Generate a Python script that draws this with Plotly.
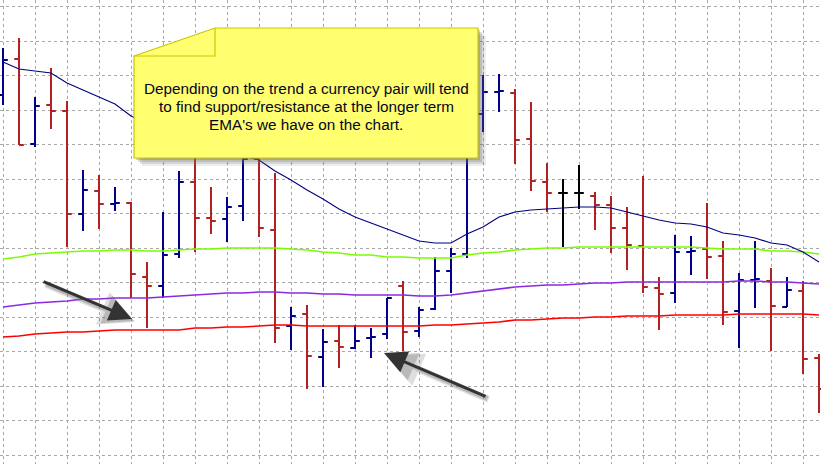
import plotly.graph_objects as go

# ---- data (bar index, OHLC prices) ----
bar_index = list(range(52))
open_ = [1.2905, 1.2941, 1.2856, 1.2895, 1.2889, 1.2786, 1.2809, 1.2796, 1.2797, 1.2723,
         1.2714, 1.2746, 1.2818, 1.2782, 1.2781, 1.2794, 1.2841, 1.2770, 1.2674, 1.2686,
         1.2643, 1.2659, 1.2652, 1.2662, 1.2666, 1.2714, 1.2669, 1.2691, 1.2729, 1.2746,
         1.2886, 1.2908, 1.2907, 1.2861, 1.2818, 1.2807, 1.2807, 1.2804, 1.2795, 1.2772,
         1.2754, 1.2712, 1.2707, 1.2748, 1.2751, 1.2744, 1.2689, 1.2720, 1.2719, 1.2693,
         1.2709, 1.2642]
high = [1.2952, 1.2962, 1.2903, 1.2932, 1.2899, 1.2830, 1.2825, 1.2813, 1.2798, 1.2738,
        1.2788, 1.2829, 1.2850, 1.2813, 1.2803, 1.2850, 1.2850, 1.2827, 1.2693, 1.2695,
        1.2671, 1.2675, 1.2675, 1.2672, 1.2702, 1.2719, 1.2693, 1.2743, 1.2752, 1.2890,
        1.2925, 1.2926, 1.2911, 1.2898, 1.2837, 1.2821, 1.2835, 1.2808, 1.2804, 1.2793,
        1.2824, 1.2723, 1.2765, 1.2764, 1.2797, 1.2759, 1.2727, 1.2759, 1.2732, 1.2723,
        1.2719, 1.2646]
low = [1.2895, 1.2855, 1.2853, 1.2871, 1.2753, 1.2769, 1.2771, 1.2789, 1.2702, 1.2672,
       1.2702, 1.2742, 1.2748, 1.2766, 1.2758, 1.2779, 1.2763, 1.2657, 1.2650, 1.2611,
       1.2613, 1.2632, 1.2651, 1.2642, 1.2661, 1.2649, 1.2663, 1.2690, 1.2707, 1.2742,
       1.2868, 1.2888, 1.2836, 1.2809, 1.2788, 1.2753, 1.2791, 1.2770, 1.2747, 1.2730,
       1.2707, 1.2670, 1.2697, 1.2725, 1.2721, 1.2675, 1.2652, 1.2692, 1.2649, 1.2693,
       1.2626, 1.2587]
close = [1.2940, 1.2855, 1.2894, 1.2889, 1.2786, 1.2810, 1.2796, 1.2797, 1.2726, 1.2714,
         1.2745, 1.2818, 1.2782, 1.2779, 1.2793, 1.2841, 1.2772, 1.2672, 1.2684, 1.2644,
         1.2658, 1.2653, 1.2659, 1.2663, 1.2702, 1.2668, 1.2690, 1.2729, 1.2746, 1.2886,
         1.2908, 1.2909, 1.2860, 1.2819, 1.2807, 1.2807, 1.2807, 1.2795, 1.2772, 1.2755,
         1.2713, 1.2706, 1.2748, 1.2749, 1.2743, 1.2688, 1.2720, 1.2721, 1.2694, 1.2710,
         1.2641, 1.2611]

# ---- moving averages ----
ema_short = [1.2938, 1.2931, 1.2929, 1.2927, 1.2917, 1.2910, 1.2903, 1.2896, 1.2884, 1.2876,
             1.2869, 1.2863, 1.2857, 1.2852, 1.2848, 1.2844, 1.2840, 1.2829, 1.2820, 1.2810,
             1.2801, 1.2791, 1.2783, 1.2777, 1.2771, 1.2765, 1.2759, 1.2757, 1.2757, 1.2766,
             1.2773, 1.2783, 1.2788, 1.2790, 1.2791, 1.2792, 1.2793, 1.2793, 1.2792, 1.2788,
             1.2784, 1.2780, 1.2777, 1.2776, 1.2773, 1.2767, 1.2765, 1.2762, 1.2757, 1.2755,
             1.2748, 1.2738]
ema_green = [1.2741, 1.2743, 1.2746, 1.2747, 1.2748, 1.2749, 1.2749, 1.2750, 1.2750, 1.2749,
             1.2749, 1.2750, 1.2751, 1.2751, 1.2752, 1.2752, 1.2752, 1.2752, 1.2751, 1.2750,
             1.2748, 1.2747, 1.2745, 1.2745, 1.2743, 1.2743, 1.2742, 1.2742, 1.2742, 1.2745,
             1.2747, 1.2748, 1.2750, 1.2751, 1.2752, 1.2752, 1.2753, 1.2753, 1.2753, 1.2753,
             1.2753, 1.2753, 1.2753, 1.2753, 1.2752, 1.2751, 1.2751, 1.2751, 1.2749, 1.2749,
             1.2748, 1.2746]
ema_purple = [1.2693, 1.2695, 1.2697, 1.2698, 1.2699, 1.2701, 1.2701, 1.2702, 1.2702, 1.2702,
              1.2703, 1.2704, 1.2705, 1.2706, 1.2707, 1.2707, 1.2708, 1.2708, 1.2707, 1.2707,
              1.2706, 1.2706, 1.2705, 1.2705, 1.2705, 1.2705, 1.2704, 1.2704, 1.2705, 1.2707,
              1.2709, 1.2711, 1.2713, 1.2714, 1.2715, 1.2715, 1.2716, 1.2717, 1.2717, 1.2718,
              1.2718, 1.2718, 1.2718, 1.2718, 1.2718, 1.2718, 1.2719, 1.2719, 1.2718, 1.2718,
              1.2717, 1.2716]
ema_red = [1.2663, 1.2664, 1.2666, 1.2667, 1.2668, 1.2668, 1.2669, 1.2670, 1.2670, 1.2670,
           1.2670, 1.2670, 1.2672, 1.2672, 1.2673, 1.2673, 1.2674, 1.2675, 1.2675, 1.2674,
           1.2674, 1.2674, 1.2674, 1.2674, 1.2674, 1.2674, 1.2674, 1.2675, 1.2675, 1.2676,
           1.2677, 1.2678, 1.2680, 1.2680, 1.2681, 1.2682, 1.2682, 1.2683, 1.2683, 1.2684,
           1.2684, 1.2684, 1.2685, 1.2685, 1.2685, 1.2685, 1.2686, 1.2686, 1.2686, 1.2686,
           1.2686, 1.2685]

note_lines = ["Depending on the trend a currency pair will tend",
              "to find support/resistance at the longer term",
              "EMA's we have on the chart."]

# ---- styles ----
W, H = 821, 464
UP = "#00008C"
DOWN = "#B22222"
DOJI = "#000000"
GRID = "#A8A8A8"


def px(x):
    return x / W


def py(y):
    return 1 - y / H


fig = go.Figure()

# split regular bars and doji (open == close)
reg = [i for i in bar_index if open_[i] != close[i]]
dj = [i for i in bar_index if open_[i] == close[i]]


def sub(arr, idx):
    return [arr[i] for i in idx]


fig.add_trace(go.Ohlc(
    x=sub(bar_index, reg), open=sub(open_, reg), high=sub(high, reg),
    low=sub(low, reg), close=sub(close, reg),
    increasing=dict(line=dict(color=UP, width=2)),
    decreasing=dict(line=dict(color=DOWN, width=2)),
    tickwidth=0.3, hoverinfo="skip", showlegend=False))
fig.add_trace(go.Ohlc(
    x=sub(bar_index, dj), open=sub(open_, dj), high=sub(high, dj),
    low=sub(low, dj), close=sub(close, dj),
    increasing=dict(line=dict(color=DOJI, width=2)),
    decreasing=dict(line=dict(color=DOJI, width=2)),
    tickwidth=0.3, hoverinfo="skip", showlegend=False))

for vals, col, w in [(ema_red, "#FF0000", 1.5), (ema_purple, "#8A2BE2", 1.5),
                     (ema_green, "#7CFC00", 1.5), (ema_short, "#000080", 1.1)]:
    fig.add_trace(go.Scatter(x=bar_index, y=vals, mode="lines",
                             line=dict(color=col, width=w), hoverinfo="skip",
                             showlegend=False))


def note_path(dx, dy):
    return (f"M {px(134 + dx)},{py(56 + dy)} L {px(215 + dx)},{py(28 + dy)} "
            f"L {px(478 + dx)},{py(28 + dy)} L {px(478 + dx)},{py(158 + dy)} "
            f"L {px(134 + dx)},{py(158 + dy)} Z")


shapes = []
# callout shadow (soft)
for off, op in [(8, 0.12), (6, 0.18), (4, 0.24), (2, 0.3)]:
    shapes.append(dict(type="path", xref="paper", yref="paper", path=note_path(off, off),
                       fillcolor="#6E6E6E", opacity=op, line=dict(width=0), layer="above"))
# callout body with folded corner
shapes.append(dict(type="path", xref="paper", yref="paper", path=note_path(0, 0),
                   fillcolor="#FFFF70", line=dict(color="#C8C800", width=1.2), layer="above"))
fold = f"M {px(215)},{py(28)} L {px(215)},{py(56)} L {px(134)},{py(56)}"
shapes.append(dict(type="path", xref="paper", yref="paper", path=fold,
                   line=dict(color="#C8C800", width=1.2), layer="above"))

annotations = []
for line_text, ly in zip(note_lines, [88, 106.5, 125]):
    annotations.append(dict(xref="paper", yref="paper", x=px(306), y=py(ly), text=line_text,
                            showarrow=False, align="center", xanchor="center",
                            yanchor="middle",
                            font=dict(family="Liberation Sans, Arial, sans-serif", size=15.3,
                                      color="#05051E")))


def arrow(hx, hy, tx, ty, color, width, size):
    return dict(xref="paper", yref="paper", x=px(hx), y=py(hy), ax=tx - hx, ay=ty - hy,
                text="", showarrow=True, arrowhead=2, arrowsize=size, arrowwidth=width,
                arrowcolor=color, standoff=0, startstandoff=0)


for (hx, hy, tx, ty) in [(132, 319, 42, 281), (384, 353, 487, 397)]:
    annotations.append(arrow(hx + 3, hy + 3, tx + 3, ty + 3, "rgba(110,110,110,0.22)", 7, 1.0))
    annotations.append(arrow(hx + 2, hy + 2, tx + 2, ty + 2, "rgba(110,110,110,0.32)", 5, 1.2))
    annotations.append(arrow(hx, hy, tx, ty, "#333333", 3, 1.5))

fig.update_layout(
    width=W, height=H, margin=dict(l=0, r=0, t=0, b=0),
    paper_bgcolor="white", plot_bgcolor="white",
    shapes=shapes, annotations=annotations, showlegend=False,
    xaxis=dict(range=[-0.1875, 51.125], showgrid=True, gridcolor=GRID, griddash="3px,3px",
               gridwidth=1, dtick=2, tick0=0, showticklabels=False, zeroline=False,
               showline=False, ticks="", rangeslider=dict(visible=False), fixedrange=True),
    yaxis=dict(range=[1.2536, 1.3000], showgrid=True, gridcolor=GRID, griddash="3px,3px",
               gridwidth=1, dtick=0.00345, tick0=1.2545, showticklabels=False,
               zeroline=False, showline=False, ticks="", fixedrange=True),
)

fig.write_html("out.html", config={"displayModeBar": False},
               post_script="document.body.style.margin='0';document.body.style.overflow='hidden';")
